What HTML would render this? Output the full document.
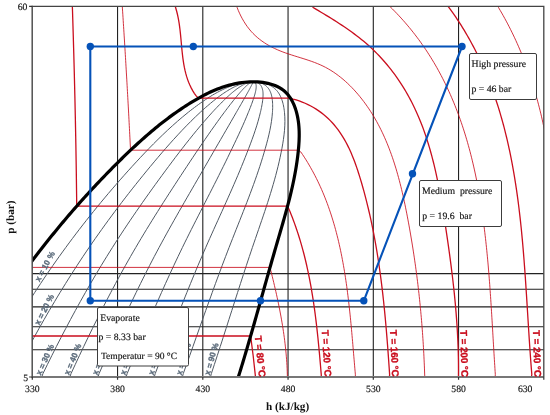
<!DOCTYPE html>
<html><head><meta charset="utf-8"><title>p-h diagram</title>
<style>html,body{margin:0;padding:0;background:#fff;}body{width:550px;height:415px;overflow:hidden;}svg{display:block;} text{text-rendering:geometricPrecision;}</style>
</head><body>
<svg width="550" height="415" viewBox="0 0 550 415">
<defs><clipPath id="pc"><rect x="32.3" y="6.3" width="511.5" height="370.7"/></clipPath></defs>
<rect width="550" height="415" fill="#fff"/>
<path d="M117.55 6.3V377M202.8 6.3V377M288.05 6.3V377M373.3 6.3V377M458.55 6.3V377M32.3 349.8H543.8M32.3 326.8H543.8M32.3 306.88H543.8M32.3 289.31H543.8M32.3 273.6H543.8" stroke="#222" stroke-width="1.1" fill="none"/>
<g clip-path="url(#pc)" fill="none">
<path d="M253.43 81.81L251.97 81.83L250.5 81.89L249.03 81.99L247.54 82.13L246.04 82.3L244.52 82.52L243 82.78L241.47 83.07L239.93 83.41L238.38 83.78L236.84 84.2L235.28 84.65L233.71 85.14L232.14 85.68L230.56 86.25L228.97 86.86L227.38 87.51L225.77 88.2L224.16 88.93L222.53 89.7L220.9 90.51L219.25 91.36L217.59 92.24L215.92 93.17L214.23 94.14L212.53 95.14L210.82 96.19L209.09 97.27L207.34 98.4L205.58 99.56L203.81 100.76L202.01 102.01L200.19 103.29L198.35 104.61L196.49 105.97L194.62 107.37L192.72 108.81L190.8 110.29L188.87 111.81L188.24 112.31L182.72 116.81L177.44 121.32L172.36 125.82L167.45 130.32L162.69 134.83L158.06 139.33L153.54 143.83L149.12 148.34L144.79 152.84L140.54 157.34L136.35 161.85L132.21 166.35L128.13 170.85L124.1 175.36L120.11 179.86L116.18 184.36L112.29 188.86L108.45 193.37L104.66 197.87L100.91 202.37L97.21 206.88L93.55 211.38L89.93 215.88L86.36 220.39L82.83 224.89L79.35 229.39L75.9 233.9L72.5 238.4L69.14 242.9L65.82 247.41L62.54 251.91L59.3 256.41L56.1 260.92L52.94 265.42L49.81 269.92L46.72 274.43L43.67 278.93L40.66 283.43L37.68 287.94L34.73 292.44L31.82 296.94L28.94 301.45L26.09 305.95L23.27 310.45L20.49 314.95L17.73 319.46L15.01 323.96L12.31 328.46L9.65 332.97L7.01 337.47L4.41 341.97L1.82 346.48L-0.73 350.98L-3.25 355.48L-5.75 359.99L-8.23 364.49L-10.68 368.99L-13.1 373.5L-14.95 378M253.43 81.81L252.32 81.83L251.21 81.89L250.1 81.99L248.96 82.13L247.81 82.3L246.64 82.52L245.46 82.78L244.27 83.07L243.08 83.41L241.87 83.78L240.66 84.2L239.43 84.65L238.19 85.14L236.95 85.68L235.69 86.25L234.42 86.86L233.13 87.51L231.84 88.2L230.53 88.93L229.21 89.7L227.87 90.51L226.52 91.36L225.15 92.24L223.77 93.17L222.37 94.14L220.95 95.14L219.52 96.19L218.07 97.27L216.6 98.4L215.11 99.56L213.61 100.76L212.08 102.01L210.53 103.29L208.97 104.61L207.38 105.97L205.76 107.37L204.13 108.81L202.48 110.29L200.82 111.81L200.27 112.31L195.49 116.81L190.88 121.32L186.42 125.82L182.08 130.32L177.86 134.83L173.73 139.33L169.69 143.83L165.73 148.34L161.83 152.84L157.99 157.34L154.19 161.85L150.44 166.35L146.73 170.85L143.05 175.36L139.41 179.86L135.81 184.36L132.24 188.86L128.71 193.37L125.22 197.87L121.76 202.37L118.34 206.88L114.95 211.38L111.6 215.88L108.28 220.39L105 224.89L101.75 229.39L98.55 233.9L95.37 238.4L92.24 242.9L89.14 247.41L86.08 251.91L83.06 256.41L80.07 260.92L77.12 265.42L74.2 269.92L71.31 274.43L68.46 278.93L65.64 283.43L62.85 287.94L60.09 292.44L57.36 296.94L54.66 301.45L51.99 305.95L49.34 310.45L46.72 314.95L44.13 319.46L41.57 323.96L39.03 328.46L36.52 332.97L34.03 337.47L31.57 341.97L29.13 346.48L26.71 350.98L24.32 355.48L21.95 359.99L19.6 364.49L17.27 368.99L14.96 373.5L13.2 378M253.43 81.81L252.67 81.83L251.92 81.89L251.16 81.99L250.37 82.13L249.57 82.3L248.75 82.52L247.92 82.78L247.08 83.07L246.23 83.41L245.36 83.78L244.48 84.2L243.58 84.65L242.67 85.14L241.75 85.68L240.81 86.25L239.86 86.86L238.89 87.51L237.91 88.2L236.9 88.93L235.88 89.7L234.85 90.51L233.79 91.36L232.71 92.24L231.62 93.17L230.5 94.14L229.37 95.14L228.22 96.19L227.04 97.27L225.85 98.4L224.64 99.56L223.41 100.76L222.15 102.01L220.88 103.29L219.58 104.61L218.26 105.97L216.91 107.37L215.55 108.81L214.17 110.29L212.76 111.81L212.3 112.31L208.25 116.81L204.31 121.32L200.47 125.82L196.71 130.32L193.03 134.83L189.41 139.33L185.84 143.83L182.33 148.34L178.86 152.84L175.43 157.34L172.04 161.85L168.67 166.35L165.33 170.85L162.01 175.36L158.71 179.86L155.44 184.36L152.19 188.86L148.97 193.37L145.78 197.87L142.61 202.37L139.46 206.88L136.35 211.38L133.26 215.88L130.2 220.39L127.16 224.89L124.16 229.39L121.19 233.9L118.25 238.4L115.34 242.9L112.47 247.41L109.63 251.91L106.82 256.41L104.05 260.92L101.3 265.42L98.59 269.92L95.9 274.43L93.25 278.93L90.62 283.43L88.02 287.94L85.45 292.44L82.9 296.94L80.38 301.45L77.88 305.95L75.41 310.45L72.96 314.95L70.54 319.46L68.13 323.96L65.75 328.46L63.39 332.97L61.05 337.47L58.73 341.97L56.43 346.48L54.15 350.98L51.89 355.48L49.65 359.99L47.42 364.49L45.21 368.99L43.02 373.5L41.34 378M253.43 81.81L253.02 81.83L252.63 81.89L252.22 81.99L251.79 82.13L251.34 82.3L250.87 82.52L250.39 82.78L249.89 83.07L249.37 83.41L248.84 83.78L248.3 84.2L247.73 84.65L247.15 85.14L246.55 85.68L245.94 86.25L245.3 86.86L244.65 87.51L243.97 88.2L243.28 88.93L242.56 89.7L241.82 90.51L241.06 91.36L240.28 92.24L239.47 93.17L238.64 94.14L237.79 95.14L236.92 96.19L236.02 97.27L235.11 98.4L234.17 99.56L233.21 100.76L232.23 102.01L231.22 103.29L230.19 104.61L229.14 105.97L228.06 107.37L226.97 108.81L225.85 110.29L224.71 111.81L224.33 112.31L221.01 116.81L217.74 121.32L214.52 125.82L211.34 130.32L208.2 134.83L205.08 139.33L201.99 143.83L198.93 148.34L195.89 152.84L192.88 157.34L189.88 161.85L186.9 166.35L183.93 170.85L180.96 175.36L178.01 179.86L175.07 184.36L172.15 188.86L169.23 193.37L166.34 197.87L163.45 202.37L160.59 206.88L157.74 211.38L154.92 215.88L152.11 220.39L149.33 224.89L146.57 229.39L143.83 233.9L141.13 238.4L138.45 242.9L135.8 247.41L133.17 251.91L130.58 256.41L128.02 260.92L125.48 265.42L122.98 269.92L120.49 274.43L118.03 278.93L115.6 283.43L113.19 287.94L110.81 292.44L108.44 296.94L106.1 301.45L103.78 305.95L101.48 310.45L99.2 314.95L96.94 319.46L94.7 323.96L92.47 328.46L90.26 332.97L88.07 337.47L85.9 341.97L83.74 346.48L81.6 350.98L79.47 355.48L77.35 359.99L75.25 364.49L73.16 368.99L71.08 373.5L69.48 378M253.43 81.81L253.38 81.83L253.34 81.89L253.29 81.99L253.21 82.13L253.11 82.3L252.99 82.52L252.85 82.78L252.7 83.07L252.52 83.41L252.33 83.78L252.12 84.2L251.89 84.65L251.63 85.14L251.36 85.68L251.06 86.25L250.74 86.86L250.4 87.51L250.04 88.2L249.65 88.93L249.24 89.7L248.8 90.51L248.33 91.36L247.84 92.24L247.32 93.17L246.78 94.14L246.21 95.14L245.62 96.19L245 97.27L244.36 98.4L243.7 99.56L243.01 100.76L242.3 102.01L241.56 103.29L240.8 104.61L240.02 105.97L239.21 107.37L238.38 108.81L237.53 110.29L236.65 111.81L236.36 112.31L233.77 116.81L231.18 121.32L228.58 125.82L225.98 130.32L223.37 134.83L220.76 139.33L218.14 143.83L215.53 148.34L212.93 152.84L210.33 157.34L207.73 161.85L205.13 166.35L202.52 170.85L199.92 175.36L197.31 179.86L194.7 184.36L192.1 188.86L189.49 193.37L186.89 197.87L184.3 202.37L181.72 206.88L179.14 211.38L176.58 215.88L174.03 220.39L171.49 224.89L168.98 229.39L166.48 233.9L164 238.4L161.55 242.9L159.12 247.41L156.72 251.91L154.34 256.41L151.99 260.92L149.67 265.42L147.36 269.92L145.08 274.43L142.82 278.93L140.58 283.43L138.36 287.94L136.17 292.44L133.99 296.94L131.82 301.45L129.68 305.95L127.55 310.45L125.44 314.95L123.34 319.46L121.26 323.96L119.19 328.46L117.14 332.97L115.09 337.47L113.06 341.97L111.04 346.48L109.04 350.98L107.04 355.48L105.05 359.99L103.07 364.49L101.1 368.99L99.14 373.5L97.63 378M253.43 81.81L253.73 81.83L254.05 81.89L254.35 81.99L254.62 82.13L254.87 82.3L255.1 82.52L255.32 82.78L255.5 83.07L255.67 83.41L255.82 83.78L255.94 84.2L256.04 84.65L256.11 85.14L256.16 85.68L256.19 86.25L256.19 86.86L256.16 87.51L256.11 88.2L256.02 88.93L255.91 89.7L255.77 90.51L255.6 91.36L255.4 92.24L255.18 93.17L254.92 94.14L254.63 95.14L254.32 96.19L253.98 97.27L253.61 98.4L253.22 99.56L252.81 100.76L252.37 102.01L251.91 103.29L251.42 104.61L250.9 105.97L250.36 107.37L249.8 108.81L249.21 110.29L248.6 111.81L248.39 112.31L246.53 116.81L244.61 121.32L242.63 125.82L240.61 130.32L238.54 134.83L236.43 139.33L234.29 143.83L232.13 148.34L229.96 152.84L227.78 157.34L225.58 161.85L223.36 166.35L221.12 170.85L218.87 175.36L216.61 179.86L214.33 184.36L212.05 188.86L209.75 193.37L207.45 197.87L205.15 202.37L202.84 206.88L200.54 211.38L198.24 215.88L195.95 220.39L193.66 224.89L191.38 229.39L189.12 233.9L186.88 238.4L184.65 242.9L182.45 247.41L180.27 251.91L178.11 256.41L175.97 260.92L173.85 265.42L171.75 269.92L169.67 274.43L167.61 278.93L165.56 283.43L163.54 287.94L161.52 292.44L159.53 296.94L157.55 301.45L155.58 305.95L153.62 310.45L151.68 314.95L149.74 319.46L147.82 323.96L145.91 328.46L144.01 332.97L142.11 337.47L140.23 341.97L138.35 346.48L136.48 350.98L134.61 355.48L132.75 359.99L130.9 364.49L129.05 368.99L127.2 373.5L125.77 378M253.43 81.81L254.08 81.83L254.75 81.89L255.41 81.99L256.04 82.13L256.64 82.3L257.22 82.52L257.78 82.78L258.31 83.07L258.82 83.41L259.3 83.78L259.76 84.2L260.19 84.65L260.59 85.14L260.97 85.68L261.31 86.25L261.63 86.86L261.92 87.51L262.17 88.2L262.4 88.93L262.59 89.7L262.75 90.51L262.88 91.36L262.97 92.24L263.03 93.17L263.05 94.14L263.05 95.14L263.02 96.19L262.96 97.27L262.87 98.4L262.75 99.56L262.61 100.76L262.44 102.01L262.25 103.29L262.03 104.61L261.78 105.97L261.51 107.37L261.21 108.81L260.89 110.29L260.54 111.81L260.42 112.31L259.29 116.81L258.04 121.32L256.69 125.82L255.24 130.32L253.71 134.83L252.1 139.33L250.44 143.83L248.74 148.34L246.99 152.84L245.22 157.34L243.42 161.85L241.59 166.35L239.72 170.85L237.83 175.36L235.91 179.86L233.96 184.36L232 188.86L230.01 193.37L228.01 197.87L226 202.37L223.97 206.88L221.94 211.38L219.9 215.88L217.86 220.39L215.82 224.89L213.79 229.39L211.77 233.9L209.75 238.4L207.75 242.9L205.77 247.41L203.81 251.91L201.87 256.41L199.94 260.92L198.03 265.42L196.14 269.92L194.26 274.43L192.4 278.93L190.55 283.43L188.71 287.94L186.88 292.44L185.07 296.94L183.27 301.45L181.47 305.95L179.69 310.45L177.91 314.95L176.14 319.46L174.38 323.96L172.63 328.46L170.88 332.97L169.13 337.47L167.39 341.97L165.65 346.48L163.92 350.98L162.19 355.48L160.45 359.99L158.72 364.49L156.99 368.99L155.26 373.5L153.91 378M253.43 81.81L254.43 81.83L255.46 81.89L256.47 81.99L257.46 82.13L258.41 82.3L259.34 82.52L260.24 82.78L261.12 83.07L261.97 83.41L262.79 83.78L263.58 84.2L264.34 84.65L265.07 85.14L265.77 85.68L266.44 86.25L267.07 86.86L267.67 87.51L268.24 88.2L268.77 88.93L269.27 89.7L269.72 90.51L270.15 91.36L270.53 92.24L270.88 93.17L271.19 94.14L271.47 95.14L271.72 96.19L271.93 97.27L272.12 98.4L272.28 99.56L272.41 100.76L272.52 102.01L272.59 103.29L272.64 104.61L272.66 105.97L272.66 107.37L272.63 108.81L272.57 110.29L272.49 111.81L272.45 112.31L272.05 116.81L271.47 121.32L270.74 125.82L269.87 130.32L268.87 134.83L267.78 139.33L266.59 143.83L265.34 148.34L264.03 152.84L262.67 157.34L261.27 161.85L259.82 166.35L258.32 170.85L256.78 175.36L255.21 179.86L253.6 184.36L251.95 188.86L250.27 193.37L248.57 197.87L246.85 202.37L245.1 206.88L243.34 211.38L241.56 215.88L239.78 220.39L237.99 224.89L236.2 229.39L234.41 233.9L232.63 238.4L230.86 242.9L229.1 247.41L227.36 251.91L225.63 256.41L223.91 260.92L222.21 265.42L220.53 269.92L218.85 274.43L217.18 278.93L215.53 283.43L213.88 287.94L212.24 292.44L210.61 296.94L208.99 301.45L207.37 305.95L205.76 310.45L204.15 314.95L202.55 319.46L200.95 323.96L199.35 328.46L197.75 332.97L196.15 337.47L194.56 341.97L192.96 346.48L191.36 350.98L189.76 355.48L188.16 359.99L186.55 364.49L184.93 368.99L183.32 373.5L182.06 378M253.43 81.81L254.78 81.83L256.17 81.89L257.54 81.99L258.87 82.13L260.18 82.3L261.46 82.52L262.71 82.78L263.93 83.07L265.12 83.41L266.28 83.78L267.4 84.2L268.49 84.65L269.55 85.14L270.58 85.68L271.56 86.25L272.51 86.86L273.43 87.51L274.3 88.2L275.14 88.93L275.94 89.7L276.7 90.51L277.42 91.36L278.1 92.24L278.73 93.17L279.33 94.14L279.89 95.14L280.42 96.19L280.91 97.27L281.37 98.4L281.81 99.56L282.21 100.76L282.59 102.01L282.94 103.29L283.25 104.61L283.55 105.97L283.81 107.37L284.04 108.81L284.25 110.29L284.43 111.81L284.49 112.31L284.81 116.81L284.91 121.32L284.79 125.82L284.5 130.32L284.04 134.83L283.45 139.33L282.74 143.83L281.94 148.34L281.06 152.84L280.12 157.34L279.11 161.85L278.05 166.35L276.92 170.85L275.74 175.36L274.51 179.86L273.23 184.36L271.9 188.86L270.53 193.37L269.13 197.87L267.69 202.37L266.23 206.88L264.74 211.38L263.22 215.88L261.69 220.39L260.15 224.89L258.61 229.39L257.05 233.9L255.5 238.4L253.96 242.9L252.42 247.41L250.9 251.91L249.39 256.41L247.89 260.92L246.4 265.42L244.91 269.92L243.44 274.43L241.97 278.93L240.51 283.43L239.05 287.94L237.6 292.44L236.16 296.94L234.71 301.45L233.27 305.95L231.83 310.45L230.39 314.95L228.95 319.46L227.51 323.96L226.07 328.46L224.62 332.97L223.17 337.47L221.72 341.97L220.26 346.48L218.8 350.98L217.33 355.48L215.86 359.99L214.37 364.49L212.88 368.99L211.38 373.5L210.2 378" stroke="#4f5863" stroke-width="1.0"/>
<path d="M30.3 267.4L270.02 267.4L270.02 267.4L270.77 270.42L271.53 273.44L272.27 276.47L273.01 279.49L273.74 282.52L274.46 285.56L275.17 288.6L275.86 291.64L276.54 294.68L277.21 297.73L277.86 300.78L278.5 303.83L279.12 306.89L279.72 309.95L280.31 313.01L280.88 316.07L281.43 319.14L281.96 322.21L282.47 325.29L282.96 328.37L283.43 331.45L283.87 334.53L284.3 337.62L284.69 340.71L285.07 343.8L285.42 346.9L285.75 349.99L286.04 353.09L286.31 356.2L286.56 359.31L286.77 362.42L286.96 365.53L287.11 368.64L287.24 371.76L287.33 374.88L287.4 378M122.2 5L122.4 8.09L122.6 11.18L122.8 14.26L123 17.35L123.2 20.44L123.39 23.53L123.59 26.62L123.78 29.71L123.98 32.79L124.17 35.88L124.36 38.97L124.55 42.06L124.74 45.15L124.93 48.24L125.12 51.33L125.3 54.41L125.49 57.5L125.67 60.59L125.85 63.68L126.03 66.77L126.21 69.86L126.39 72.95L126.57 76.04L126.75 79.13L126.93 82.22L127.1 85.31L127.28 88.4L127.45 91.49L127.62 94.58L127.79 97.67L127.96 100.76L128.13 103.85L128.3 106.93L128.47 110.02L128.63 113.11L128.8 116.21L128.96 119.3L129.12 122.39L129.28 125.48L129.44 128.57L129.6 131.66L129.76 134.75L129.92 137.84L130.08 140.93L130.23 144.02L130.39 147.11L130.54 150.2L298.37 150.2L298.37 150.2L300.87 152.03L302.61 154.6L304.31 157.18L305.96 159.78L307.57 162.4L309.14 165.04L310.67 167.69L312.17 170.36L313.62 173.04L315.04 175.74L316.42 178.45L317.76 181.18L319.06 183.93L320.34 186.69L321.57 189.46L322.77 192.25L323.94 195.05L325.07 197.86L326.18 200.69L327.25 203.52L328.29 206.37L329.29 209.24L330.27 212.11L331.22 214.99L332.14 217.89L333.03 220.79L333.9 223.71L334.74 226.63L335.55 229.57L336.33 232.51L337.09 235.46L337.83 238.42L338.54 241.39L339.23 244.36L339.89 247.35L340.54 250.34L341.16 253.33L341.76 256.33L342.34 259.34L342.9 262.36L343.44 265.38L343.97 268.4L344.47 271.43L344.96 274.46L345.43 277.5L345.89 280.54L346.33 283.59L346.76 286.64L347.17 289.69L347.56 292.74L347.95 295.79L348.32 298.85L348.68 301.91L349.03 304.96L349.37 308.02L349.7 311.08L350.02 314.14L350.33 317.2L350.63 320.26L350.93 323.31L351.22 326.37L351.5 329.42L351.77 332.47L352.05 335.52L352.31 338.57L352.58 341.61L352.84 344.65L353.09 347.69L353.35 350.72L353.6 353.75L353.85 356.77L354.11 359.79L354.36 362.81L354.61 365.81L354.87 368.81L355.13 371.81L355.39 374.8L355.3 378M235.3 5L237.05 7.32L238.23 10.29L239.51 13.2L240.87 16.03L242.33 18.78L243.88 21.45L245.51 24.03L247.24 26.52L249.07 28.91L250.98 31.2L252.99 33.38L255.09 35.45L257.27 37.41L259.54 39.28L261.89 41.04L264.31 42.7L266.79 44.28L269.35 45.76L271.96 47.16L274.62 48.48L277.33 49.71L280.09 50.88L282.89 51.97L285.72 53L288.58 53.98L291.47 54.93L294.36 55.85L297.27 56.75L300.18 57.65L303.09 58.56L306 59.48L308.89 60.44L311.76 61.43L314.6 62.48L317.42 63.59L320.19 64.77L322.92 66.04L325.61 67.4L328.24 68.85L330.83 70.39L333.37 72.01L335.86 73.72L338.29 75.5L340.68 77.36L343.02 79.28L345.31 81.27L347.55 83.32L349.74 85.43L351.88 87.59L353.97 89.8L356.01 92.06L358.01 94.36L359.95 96.7L361.84 99.07L363.68 101.47L365.47 103.9L367.22 106.36L368.91 108.84L370.56 111.35L372.16 113.89L373.72 116.45L375.24 119.03L376.71 121.64L378.14 124.27L379.52 126.92L380.87 129.59L382.18 132.28L383.45 134.99L384.68 137.73L385.88 140.47L387.04 143.24L388.17 146.02L389.26 148.82L390.32 151.64L391.35 154.47L392.35 157.32L393.31 160.17L394.25 163.05L395.16 165.93L396.05 168.82L396.9 171.73L397.73 174.65L398.54 177.57L399.33 180.5L400.09 183.45L400.83 186.4L401.55 189.35L402.25 192.31L402.93 195.28L403.6 198.25L404.25 201.23L404.88 204.21L405.49 207.19L406.1 210.18L406.69 213.16L407.27 216.15L407.83 219.13L408.39 222.12L408.94 225.1L409.47 228.08L410 231.06L410.52 234.04L411.03 237.02L411.53 240L412.02 242.98L412.5 245.96L412.97 248.94L413.43 251.92L413.89 254.89L414.33 257.87L414.76 260.85L415.19 263.82L415.61 266.8L416.01 269.78L416.41 272.76L416.8 275.74L417.18 278.72L417.55 281.7L417.91 284.68L418.26 287.66L418.6 290.65L418.94 293.63L419.26 296.62L419.58 299.61L419.89 302.59L420.19 305.59L420.48 308.58L420.76 311.57L421.03 314.57L421.3 317.57L421.55 320.57L421.8 323.57L422.04 326.58L422.27 329.58L422.49 332.59L422.7 335.61L422.9 338.62L423.1 341.64L423.29 344.66L423.46 347.69L423.63 350.71L423.8 353.74L423.95 356.78L424.09 359.82L424.23 362.86L424.36 365.9L424.48 368.95L424.59 372.01L424.7 375.06L424.8 378M388.3 5L390.08 6.66L392.35 8.9L394.59 11.17L396.79 13.45L398.96 15.75L401.09 18.06L403.18 20.4L405.25 22.75L407.27 25.11L409.27 27.49L411.23 29.89L413.16 32.31L415.05 34.74L416.92 37.18L418.75 39.64L420.55 42.12L422.31 44.61L424.05 47.12L425.76 49.64L427.43 52.17L429.07 54.72L430.69 57.28L432.27 59.86L433.83 62.45L435.36 65.06L436.86 67.67L438.32 70.3L439.77 72.95L441.18 75.6L442.57 78.27L443.93 80.95L445.26 83.64L446.56 86.35L447.84 89.06L449.1 91.79L450.32 94.53L451.53 97.28L452.7 100.04L453.86 102.81L454.98 105.59L456.09 108.38L457.17 111.19L458.23 114L459.26 116.82L460.27 119.65L461.26 122.49L462.23 125.34L463.17 128.2L464.09 131.07L464.99 133.94L465.87 136.83L466.73 139.72L467.57 142.62L468.39 145.53L469.19 148.44L469.97 151.37L470.73 154.3L471.47 157.24L472.2 160.18L472.9 163.13L473.59 166.09L474.26 169.05L474.91 172.02L475.55 174.99L476.17 177.98L476.77 180.96L477.35 183.95L477.92 186.95L478.48 189.95L479.02 192.96L479.54 195.97L480.05 198.98L480.55 202L481.03 205.02L481.5 208.05L481.95 211.08L482.4 214.11L482.83 217.15L483.24 220.18L483.65 223.23L484.04 226.27L484.42 229.32L484.79 232.36L485.15 235.41L485.5 238.47L485.84 241.52L486.17 244.57L486.49 247.63L486.8 250.69L487.1 253.75L487.4 256.8L487.68 259.86L487.96 262.92L488.22 265.98L488.48 269.04L488.74 272.1L488.99 275.15L489.23 278.21L489.46 281.27L489.69 284.32L489.91 287.37L490.13 290.42L490.34 293.47L490.55 296.52L490.75 299.57L490.95 302.61L491.15 305.65L491.34 308.69L491.53 311.72L491.71 314.75L491.9 317.78L492.08 320.81L492.26 323.83L492.44 326.84L492.61 329.86L492.79 332.86L492.96 335.87L493.14 338.87L493.31 341.86L493.49 344.85L493.66 347.84L493.84 350.81L494.02 353.79L494.2 356.75L494.38 359.71L494.56 362.67L494.75 365.62L494.93 368.56L495.12 371.49L495.32 374.42L495.1 378M497 5L498.58 7.66L500.17 10.33L501.72 13.02L503.25 15.72L504.76 18.43L506.24 21.15L507.69 23.89L509.12 26.65L510.52 29.41L511.9 32.19L513.25 34.97L514.58 37.77L515.88 40.58L517.16 43.41L518.41 46.24L519.64 49.08L520.85 51.94L522.03 54.8L523.18 57.67L524.32 60.56L525.43 63.45L526.51 66.35L527.58 69.26L528.62 72.18L529.64 75.11L530.63 78.04L531.6 80.99L532.55 83.94L533.48 86.9L534.39 89.86L535.27 92.83L536.13 95.81L536.97 98.8L537.79 101.79L538.59 104.78L539.37 107.79L540.12 110.79L540.86 113.81L541.57 116.82L542.26 119.85L542.94 122.87L543.59 125.9L544.22 128.94L544.84 131.97L545.5 135" stroke="#ca0e1e" stroke-width="0.85"/>
<path d="M30.3 336L250.62 336L253.2 356L255.6 378M72.3 5L72.41 8.05L72.51 11.09L72.61 14.14L72.7 17.19L72.8 20.24L72.89 23.29L72.98 26.33L73.07 29.38L73.17 32.43L73.26 35.48L73.34 38.53L73.43 41.57L73.52 44.62L73.61 47.67L73.69 50.72L73.78 53.77L73.86 56.81L73.95 59.86L74.03 62.91L74.11 65.96L74.19 69.01L74.27 72.05L74.35 75.1L74.42 78.15L74.5 81.2L74.57 84.25L74.65 87.3L74.72 90.35L74.79 93.39L74.87 96.44L74.94 99.49L75.01 102.54L75.07 105.59L75.14 108.64L75.21 111.69L75.27 114.73L75.34 117.78L75.4 120.83L75.46 123.88L75.52 126.93L75.58 129.98L75.64 133.03L75.7 136.07L75.76 139.12L75.81 142.17L75.87 145.22L75.92 148.27L75.97 151.32L76.02 154.37L76.07 157.42L76.12 160.47L76.17 163.51L76.22 166.56L76.26 169.61L76.31 172.66L76.35 175.71L76.39 178.76L76.43 181.81L76.47 184.86L76.51 187.91L76.55 190.95L76.59 194L76.62 197.05L76.66 200.1L76.69 203.15L76.68 206.2L287.54 206.2L287.54 206.2L288.87 208.98L290.06 211.84L291.22 214.7L292.34 217.58L293.44 220.47L294.51 223.36L295.54 226.27L296.55 229.18L297.53 232.1L298.47 235.04L299.4 237.98L300.29 240.93L301.16 243.88L302 246.84L302.82 249.82L303.61 252.79L304.38 255.78L305.12 258.77L305.84 261.77L306.54 264.77L307.22 267.78L307.87 270.8L308.5 273.82L309.12 276.84L309.71 279.87L310.28 282.91L310.84 285.95L311.38 288.99L311.89 292.04L312.4 295.09L312.88 298.14L313.35 301.2L313.81 304.26L314.25 307.33L314.67 310.39L315.08 313.46L315.48 316.53L315.86 319.6L316.24 322.67L316.6 325.75L316.95 328.82L317.29 331.9L317.62 334.97L317.94 338.05L318.25 341.13L318.56 344.2L318.85 347.28L319.14 350.35L319.43 353.42L319.7 356.5L319.98 359.57L320.24 362.64L320.51 365.7L320.76 368.77L321.02 371.83L321.27 374.89L321.3 378M174.9 5L175.73 8.03L176.6 11L177.36 14.01L178.03 17.05L178.61 20.13L179.12 23.23L179.57 26.36L179.97 29.5L180.32 32.67L180.65 35.84L180.95 39.02L181.24 42.21L181.53 45.39L181.82 48.57L182.14 51.75L182.49 54.91L182.87 58.06L183.31 61.19L183.81 64.3L184.37 67.38L185.02 70.43L185.76 73.45L186.6 76.43L187.55 79.36L188.62 82.25L189.83 85.1L191.17 87.88L192.67 90.61L194.33 93.28L196.17 95.89L198.44 98.2L290.5 98.2L290.5 98.2L293.06 99.04L296.17 99.93L299.22 100.93L302.21 102.05L305.13 103.27L307.99 104.59L310.78 106.01L313.5 107.53L316.14 109.15L318.71 110.85L321.19 112.64L323.59 114.51L325.91 116.46L328.14 118.49L330.28 120.59L332.33 122.75L334.3 124.99L336.18 127.28L337.99 129.64L339.72 132.06L341.37 134.53L342.96 137.05L344.48 139.62L345.94 142.23L347.33 144.89L348.67 147.59L349.95 150.33L351.18 153.1L352.36 155.9L353.5 158.73L354.59 161.59L355.65 164.47L356.66 167.37L357.65 170.28L358.6 173.21L359.52 176.15L360.42 179.1L361.3 182.06L362.16 185.01L363 187.98L363.82 190.94L364.62 193.9L365.4 196.87L366.17 199.84L366.92 202.81L367.65 205.79L368.37 208.77L369.07 211.75L369.75 214.73L370.41 217.71L371.07 220.7L371.7 223.69L372.32 226.68L372.93 229.67L373.52 232.67L374.09 235.66L374.65 238.66L375.2 241.66L375.74 244.66L376.26 247.67L376.76 250.67L377.26 253.68L377.74 256.69L378.21 259.7L378.67 262.71L379.12 265.73L379.55 268.74L379.97 271.76L380.39 274.78L380.79 277.8L381.18 280.82L381.56 283.84L381.93 286.86L382.3 289.89L382.65 292.91L382.99 295.94L383.33 298.97L383.66 302L383.97 305.03L384.28 308.06L384.59 311.09L384.88 314.13L385.17 317.16L385.45 320.2L385.73 323.23L385.99 326.27L386.26 329.3L386.51 332.34L386.76 335.38L387.01 338.42L387.25 341.46L387.49 344.5L387.72 347.54L387.95 350.58L388.17 353.62L388.39 356.66L388.61 359.7L388.82 362.74L389.03 365.79L389.24 368.83L389.44 371.87L389.65 374.91L389.2 378M311.5 5L313.24 7.62L315.84 9.14L318.44 10.67L321.05 12.22L323.65 13.78L326.25 15.35L328.85 16.93L331.44 18.53L334.03 20.15L336.6 21.79L339.16 23.44L341.71 25.12L344.25 26.82L346.76 28.54L349.26 30.29L351.74 32.06L354.19 33.86L356.62 35.68L359.02 37.54L361.39 39.43L363.73 41.35L366.04 43.3L368.31 45.29L370.55 47.31L372.75 49.37L374.91 51.47L377.04 53.6L379.13 55.76L381.18 57.96L383.19 60.19L385.17 62.45L387.11 64.74L389.01 67.06L390.87 69.41L392.7 71.79L394.49 74.2L396.25 76.63L397.96 79.09L399.64 81.58L401.29 84.09L402.89 86.63L404.46 89.19L406 91.77L407.49 94.37L408.95 97L410.38 99.64L411.76 102.31L413.11 104.99L414.43 107.7L415.7 110.42L416.94 113.15L418.15 115.91L419.32 118.67L420.46 121.46L421.56 124.26L422.64 127.07L423.68 129.9L424.69 132.74L425.67 135.59L426.62 138.45L427.54 141.33L428.44 144.22L429.31 147.12L430.15 150.03L430.97 152.95L431.77 155.88L432.54 158.81L433.29 161.76L434.02 164.71L434.72 167.68L435.41 170.64L436.08 173.62L436.73 176.6L437.36 179.59L437.97 182.58L438.57 185.57L439.15 188.57L439.72 191.57L440.28 194.58L440.82 197.59L441.35 200.6L441.87 203.61L442.37 206.62L442.87 209.64L443.36 212.65L443.84 215.66L444.32 218.67L444.79 221.69L445.25 224.69L445.71 227.7L446.16 230.7L446.61 233.7L447.05 236.7L447.49 239.7L447.93 242.69L448.36 245.68L448.78 248.68L449.2 251.66L449.61 254.65L450.01 257.64L450.41 260.62L450.8 263.61L451.19 266.59L451.56 269.58L451.93 272.56L452.3 275.54L452.65 278.52L453 281.51L453.34 284.49L453.67 287.47L453.99 290.46L454.3 293.44L454.6 296.43L454.89 299.42L455.18 302.41L455.45 305.4L455.71 308.39L455.97 311.39L456.21 314.38L456.44 317.38L456.66 320.39L456.87 323.39L457.06 326.4L457.25 329.41L457.42 332.42L457.58 335.44L457.73 338.46L457.87 341.48L457.99 344.51L458.1 347.54L458.2 350.58L458.28 353.62L458.35 356.66L458.41 359.71L458.45 362.77L458.47 365.83L458.48 368.89L458.48 371.96L458.46 375.04L458.5 378M446.8 5L448.67 7.05L450.51 9.58L452.32 12.11L454.09 14.66L455.84 17.22L457.56 19.8L459.25 22.38L460.91 24.97L462.54 27.58L464.13 30.2L465.71 32.83L467.25 35.47L468.76 38.12L470.25 40.78L471.71 43.45L473.14 46.13L474.55 48.82L475.93 51.52L477.28 54.23L478.6 56.95L479.9 59.68L481.18 62.42L482.43 65.17L483.65 67.93L484.86 70.69L486.03 73.47L487.18 76.25L488.31 79.04L489.42 81.85L490.5 84.65L491.56 87.47L492.59 90.3L493.61 93.13L494.6 95.97L495.57 98.82L496.52 101.68L497.45 104.54L498.36 107.41L499.25 110.29L500.11 113.17L500.96 116.06L501.79 118.96L502.6 121.87L503.39 124.78L504.16 127.69L504.91 130.62L505.64 133.54L506.36 136.48L507.06 139.42L507.74 142.36L508.41 145.31L509.05 148.27L509.69 151.23L510.3 154.2L510.9 157.17L511.49 160.14L512.06 163.12L512.61 166.11L513.15 169.1L513.68 172.09L514.19 175.08L514.69 178.08L515.17 181.09L515.64 184.1L516.1 187.11L516.55 190.12L516.98 193.14L517.4 196.16L517.81 199.18L518.21 202.2L518.6 205.23L518.98 208.26L519.35 211.3L519.7 214.33L520.05 217.37L520.39 220.41L520.72 223.45L521.04 226.49L521.35 229.53L521.65 232.57L521.94 235.62L522.23 238.67L522.51 241.71L522.78 244.76L523.04 247.81L523.3 250.86L523.55 253.91L523.8 256.96L524.04 260.01L524.27 263.06L524.5 266.11L524.73 269.16L524.95 272.2L525.16 275.25L525.38 278.3L525.58 281.34L525.79 284.39L525.99 287.43L526.19 290.47L526.39 293.51L526.58 296.55L526.77 299.59L526.96 302.62L527.15 305.66L527.34 308.69L527.53 311.72L527.72 314.74L527.9 317.76L528.09 320.78L528.28 323.8L528.47 326.82L528.65 329.83L528.85 332.83L529.04 335.84L529.23 338.84L529.43 341.84L529.63 344.83L529.83 347.82L530.03 350.8L530.24 353.78L530.45 356.76L530.67 359.73L530.89 362.7L531.11 365.66L531.34 368.61L531.58 371.56L531.82 374.51L531.2 378" stroke="#ca0e1e" stroke-width="1.3"/>
<path d="M-43.09 376.95L-41.85 374.73L-40.61 372.51L-39.36 370.3L-38.1 368.08L-36.85 365.87L-35.58 363.67L-34.31 361.46L-33.04 359.26L-31.75 357.07L-30.47 354.87L-29.18 352.68L-27.88 350.49L-26.58 348.31L-25.27 346.13L-23.96 343.95L-22.64 341.78L-21.32 339.61L-19.99 337.44L-18.66 335.28L-17.32 333.12L-15.97 330.96L-14.62 328.81L-13.27 326.66L-11.91 324.51L-10.54 322.37L-9.17 320.23L-7.79 318.1L-6.41 315.97L-5.02 313.84L-3.63 311.71L-2.23 309.59L-0.83 307.48L0.58 305.36L1.99 303.25L3.41 301.15L4.84 299.05L6.27 296.95L7.7 294.85L9.15 292.76L10.59 290.68L12.04 288.59L13.5 286.51L14.96 284.44L16.43 282.37L17.9 280.3L19.38 278.24L20.87 276.18L22.36 274.12L23.85 272.07L25.35 270.02L26.86 267.98L28.37 265.94L29.88 263.91L31.4 261.87L32.93 259.85L34.46 257.82L36 255.8L37.55 253.79L39.09 251.78L40.65 249.77L42.21 247.77L43.77 245.77L45.34 243.78L46.92 241.79L48.5 239.81L50.09 237.82L51.68 235.85L53.28 233.88L54.88 231.91L56.49 229.94L58.1 227.99L59.72 226.03L61.34 224.08L62.97 222.14L64.61 220.19L66.25 218.26L67.9 216.32L69.55 214.4L71.2 212.47L72.87 210.56L74.54 208.64L76.21 206.73L77.89 204.83L79.57 202.93L81.26 201.03L82.96 199.14L84.66 197.25L86.36 195.37L88.08 193.5L89.79 191.62L91.52 189.76L93.24 187.89L94.98 186.04L96.72 184.18L98.46 182.34L100.21 180.49L101.97 178.65L103.73 176.82L105.49 174.99L107.26 173.17L109.04 171.35L110.82 169.54L112.61 167.73L114.41 165.93L116.21 164.13L118.01 162.33L119.82 160.54L121.64 158.76L123.46 156.98L125.29 155.21L127.12 153.45L128.96 151.69L130.81 149.94L132.66 148.2L134.53 146.47L136.4 144.74L138.27 143.03L140.16 141.32L142.05 139.63L143.95 137.94L145.86 136.27L147.78 134.6L149.71 132.95L151.64 131.31L153.59 129.68L155.55 128.07L157.51 126.46L159.49 124.87L161.47 123.3L163.47 121.74L165.47 120.19L167.49 118.66L169.52 117.14L171.56 115.64L173.61 114.16L175.67 112.69L177.74 111.24L179.83 109.81L181.93 108.39L184.04 107L186.16 105.62L188.3 104.26L190.45 102.92L192.61 101.6L194.79 100.3L196.98 99.03L199.18 97.79L201.4 96.57L203.64 95.39L205.89 94.24L208.16 93.12L210.45 92.05L212.76 91.01L215.08 90.02L217.42 89.07L219.78 88.17L222.16 87.32L224.56 86.53L226.98 85.78L229.42 85.09L231.88 84.46L234.36 83.9L236.87 83.39L239.4 82.95L241.95 82.58L244.52 82.28L247.12 82.05L249.74 81.89L252.37 81.82L255 81.83L257.63 81.93L260.24 82.12L262.82 82.41L265.37 82.81L267.87 83.32L270.32 83.93L272.71 84.67L275.02 85.53L277.26 86.52L279.41 87.63L281.45 88.89L283.39 90.28L285.21 91.83L286.91 93.52L288.48 95.35L289.92 97.32L291.25 99.41L292.45 101.59L293.54 103.87L294.53 106.23L295.4 108.64L296.18 111.11L296.85 113.61L297.43 116.13L297.92 118.67L298.33 121.21L298.65 123.76L298.89 126.32L299.06 128.88L299.17 131.44L299.21 134.01L299.2 136.58L299.13 139.14L299.02 141.71L298.86 144.27L298.67 146.83L298.44 149.38L298.19 151.93L297.91 154.47L297.61 157.01L297.28 159.53L296.93 162.06L296.55 164.57L296.16 167.08L295.74 169.59L295.3 172.09L294.84 174.58L294.36 177.07L293.87 179.56L293.35 182.04L292.82 184.51L292.28 186.99L291.72 189.46L291.14 191.92L290.55 194.38L289.95 196.84L289.33 199.3L288.7 201.75L288.06 204.2L287.41 206.65L286.76 209.1L286.09 211.54L285.42 213.98L284.73 216.42L284.04 218.86L283.35 221.3L282.65 223.74L281.95 226.18L281.24 228.61L280.53 231.05L279.82 233.48L279.11 235.92L278.39 238.35L277.68 240.79L276.97 243.23L276.26 245.67L275.55 248.1L274.84 250.54L274.14 252.99L273.43 255.43L272.73 257.87L272.03 260.31L271.34 262.76L270.64 265.2L269.95 267.65L269.25 270.09L268.56 272.54L267.87 274.99L267.18 277.43L266.49 279.88L265.8 282.33L265.11 284.78L264.42 287.23L263.74 289.68L263.05 292.13L262.36 294.57L261.67 297.02L260.99 299.47L260.3 301.92L259.61 304.37L258.92 306.82L258.23 309.27L257.54 311.71L256.85 314.16L256.16 316.61L255.47 319.05L254.77 321.5L254.08 323.94L253.38 326.39L252.68 328.83L251.98 331.28L251.28 333.72L250.57 336.16L249.87 338.6L249.16 341.04L248.45 343.48L247.73 345.92L247.02 348.35L246.3 350.79L245.58 353.22L244.86 355.65L244.13 358.09L243.4 360.52L242.67 362.94L241.93 365.37L241.19 367.8L240.45 370.22L239.7 372.64L238.95 375.06L238.35 377" stroke="#000" stroke-width="3.2" stroke-linejoin="round"/>
</g>
<text transform="translate(45.1 266.6) rotate(-61.4)" text-anchor="middle" dominant-baseline="central" font-family="Liberation Sans, Arial, sans-serif" font-weight="bold" font-size="8.25" fill="#5a6a7a" stroke="#5a6a7a" stroke-width="0.3">x = 10 %</text>
<text transform="translate(44.6 309.7) rotate(-62.9)" text-anchor="middle" dominant-baseline="central" font-family="Liberation Sans, Arial, sans-serif" font-weight="bold" font-size="8.25" fill="#5a6a7a" stroke="#5a6a7a" stroke-width="0.3">x = 20 %</text>
<text transform="translate(45.3 359.7) rotate(-65.6)" text-anchor="middle" dominant-baseline="central" font-family="Liberation Sans, Arial, sans-serif" font-weight="bold" font-size="8.25" fill="#5a6a7a" stroke="#5a6a7a" stroke-width="0.3">x = 30 %</text>
<text transform="translate(73 359.5) rotate(-67.5)" text-anchor="middle" dominant-baseline="central" font-family="Liberation Sans, Arial, sans-serif" font-weight="bold" font-size="8.25" fill="#5a6a7a" stroke="#5a6a7a" stroke-width="0.3">x = 40 %</text>
<text transform="translate(100.75 359.4) rotate(-68.8)" text-anchor="middle" dominant-baseline="central" font-family="Liberation Sans, Arial, sans-serif" font-weight="bold" font-size="8.25" fill="#5a6a7a" stroke="#5a6a7a" stroke-width="0.3">x = 50 %</text>
<text transform="translate(128.5 359.3) rotate(-70.1)" text-anchor="middle" dominant-baseline="central" font-family="Liberation Sans, Arial, sans-serif" font-weight="bold" font-size="8.25" fill="#5a6a7a" stroke="#5a6a7a" stroke-width="0.3">x = 60 %</text>
<text transform="translate(156.25 359.2) rotate(-71.5)" text-anchor="middle" dominant-baseline="central" font-family="Liberation Sans, Arial, sans-serif" font-weight="bold" font-size="8.25" fill="#5a6a7a" stroke="#5a6a7a" stroke-width="0.3">x = 70 %</text>
<text transform="translate(184 359.1) rotate(-72.9)" text-anchor="middle" dominant-baseline="central" font-family="Liberation Sans, Arial, sans-serif" font-weight="bold" font-size="8.25" fill="#5a6a7a" stroke="#5a6a7a" stroke-width="0.3">x = 80 %</text>
<text transform="translate(211.8 359) rotate(-74.3)" text-anchor="middle" dominant-baseline="central" font-family="Liberation Sans, Arial, sans-serif" font-weight="bold" font-size="8.25" fill="#5a6a7a" stroke="#5a6a7a" stroke-width="0.3">x = 90 %</text>
<path d="M32.3 377H543.8" stroke="#777" stroke-width="2" fill="none"/>
<path d="M32.2 5.7V378" stroke="#4a4a4a" stroke-width="1.45" fill="none"/>
<path d="M32.3 6.3H543.8V377" stroke="#444" stroke-width="1.3" fill="none"/>
<path d="M32.3 377V379.8M117.55 377V379.8M202.8 377V379.8M288.05 377V379.8M373.3 377V379.8M458.55 377V379.8M543.8 377V379.8M29.1 6.3H32.3M29.1 377H32.3" stroke="#333" stroke-width="1.2" fill="none"/>
<path d="M90.3 300.8L90.3 46.5L462 46.5L363.8 300.8Z" stroke="#0552b8" stroke-width="2.1" fill="none" stroke-linejoin="round"/>
<circle cx="90.3" cy="300.8" r="3.7" fill="#0552b8"/>
<circle cx="90.3" cy="46.5" r="3.7" fill="#0552b8"/>
<circle cx="193.3" cy="46.5" r="3.7" fill="#0552b8"/>
<circle cx="462" cy="46.5" r="3.7" fill="#0552b8"/>
<circle cx="412.5" cy="173.8" r="3.7" fill="#0552b8"/>
<circle cx="363.8" cy="300.8" r="3.7" fill="#0552b8"/>
<circle cx="260.5" cy="300.8" r="3.7" fill="#0552b8"/>
<text transform="translate(259.4 356.5) rotate(84)" text-anchor="middle" dominant-baseline="central" font-family="Liberation Sans, Arial, sans-serif" font-weight="bold" font-size="9.7" fill="#ca0e1e" stroke="#ca0e1e" stroke-width="0.35">T = 80 °C</text>
<text transform="translate(325.7 353.3) rotate(86.5)" text-anchor="middle" dominant-baseline="central" font-family="Liberation Sans, Arial, sans-serif" font-weight="bold" font-size="9.7" fill="#ca0e1e" stroke="#ca0e1e" stroke-width="0.35">T = 120 °C</text>
<text transform="translate(393.5 353.3) rotate(87.5)" text-anchor="middle" dominant-baseline="central" font-family="Liberation Sans, Arial, sans-serif" font-weight="bold" font-size="9.7" fill="#ca0e1e" stroke="#ca0e1e" stroke-width="0.35">T = 160 °C</text>
<text transform="translate(463.3 353.5) rotate(88.5)" text-anchor="middle" dominant-baseline="central" font-family="Liberation Sans, Arial, sans-serif" font-weight="bold" font-size="9.7" fill="#ca0e1e" stroke="#ca0e1e" stroke-width="0.35">T = 200 °C</text>
<text transform="translate(536.2 353.5) rotate(88.5)" text-anchor="middle" dominant-baseline="central" font-family="Liberation Sans, Arial, sans-serif" font-weight="bold" font-size="9.7" fill="#ca0e1e" stroke="#ca0e1e" stroke-width="0.35">T = 240 °C</text>
<rect x="469.5" y="53.5" width="67" height="46" rx="1.5" fill="#fff" stroke="#3c3c3c" stroke-width="1"/><text x="471.6" y="66.5" font-family="Liberation Serif, Times New Roman, serif" font-size="9.75" fill="#111" stroke="#111" stroke-width="0.15" xml:space="preserve">High pressure</text><text x="471.4" y="91.6" font-family="Liberation Serif, Times New Roman, serif" font-size="9.75" fill="#111" stroke="#111" stroke-width="0.15" xml:space="preserve">p = 46 bar</text>
<rect x="419.5" y="180.5" width="82" height="46" rx="1.5" fill="#fff" stroke="#3c3c3c" stroke-width="1"/><text x="422" y="193.9" font-family="Liberation Serif, Times New Roman, serif" font-size="9.75" fill="#111" stroke="#111" stroke-width="0.15" xml:space="preserve">Medium  pressure</text><text x="422.3" y="219" font-family="Liberation Serif, Times New Roman, serif" font-size="9.75" fill="#111" stroke="#111" stroke-width="0.15" xml:space="preserve">p = 19.6  bar</text>
<rect x="97.5" y="307.5" width="91" height="58.5" rx="1.5" fill="#fff" stroke="#3c3c3c" stroke-width="1"/><text x="100.2" y="320.8" font-family="Liberation Serif, Times New Roman, serif" font-size="9.75" fill="#111" stroke="#111" stroke-width="0.15" xml:space="preserve">Evaporate</text><text x="98.5" y="339.5" font-family="Liberation Serif, Times New Roman, serif" font-size="9.75" fill="#111" stroke="#111" stroke-width="0.15" xml:space="preserve">p = 8.33 bar</text><text x="100.9" y="358.7" font-family="Liberation Serif, Times New Roman, serif" font-size="9.55" fill="#111" stroke="#111" stroke-width="0.15" xml:space="preserve">Temperatur = 90 °C</text>
<text x="32.3" y="391.6" text-anchor="middle" font-family="Liberation Serif, Times New Roman, serif" font-size="9.7" fill="#111" stroke="#111" stroke-width="0.15">330</text>
<text x="117.55" y="391.6" text-anchor="middle" font-family="Liberation Serif, Times New Roman, serif" font-size="9.7" fill="#111" stroke="#111" stroke-width="0.15">380</text>
<text x="202.8" y="391.6" text-anchor="middle" font-family="Liberation Serif, Times New Roman, serif" font-size="9.7" fill="#111" stroke="#111" stroke-width="0.15">430</text>
<text x="288.05" y="391.6" text-anchor="middle" font-family="Liberation Serif, Times New Roman, serif" font-size="9.7" fill="#111" stroke="#111" stroke-width="0.15">480</text>
<text x="373.3" y="391.6" text-anchor="middle" font-family="Liberation Serif, Times New Roman, serif" font-size="9.7" fill="#111" stroke="#111" stroke-width="0.15">530</text>
<text x="458.55" y="391.6" text-anchor="middle" font-family="Liberation Serif, Times New Roman, serif" font-size="9.7" fill="#111" stroke="#111" stroke-width="0.15">580</text>
<text x="525.2" y="391.6" text-anchor="middle" font-family="Liberation Serif, Times New Roman, serif" font-size="9.7" fill="#111" stroke="#111" stroke-width="0.15">630</text>
<text x="27.4" y="10.4" text-anchor="end" font-family="Liberation Serif, Times New Roman, serif" font-size="9.7" fill="#111" stroke="#111" stroke-width="0.15">60</text>
<text x="28" y="381" text-anchor="end" font-family="Liberation Serif, Times New Roman, serif" font-size="9.7" fill="#111" stroke="#111" stroke-width="0.15">5</text>
<text x="287.6" y="409.5" text-anchor="middle" font-family="Liberation Serif, Times New Roman, serif" font-size="11.2" font-weight="bold" fill="#111">h (kJ/kg)</text>
<text transform="translate(14.4 217.2) rotate(-90)" text-anchor="middle" font-family="Liberation Serif, Times New Roman, serif" font-size="11.2" font-weight="bold" fill="#111">p (bar)</text>
</svg>
</body></html>
